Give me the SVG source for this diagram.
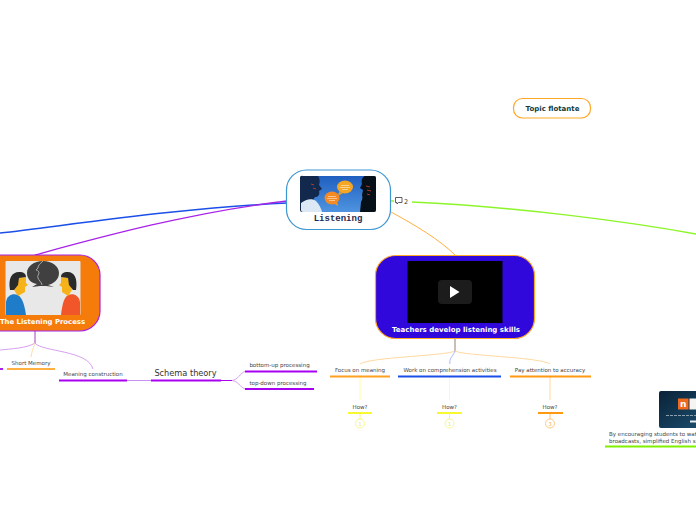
<svg xmlns="http://www.w3.org/2000/svg" width="696" height="520" viewBox="0 0 696 520">
<defs>
<linearGradient id="sky" x1="0" y1="0" x2="0" y2="1"><stop offset="0" stop-color="#1f5fc0"/><stop offset="1" stop-color="#4f94e0"/></linearGradient>
<linearGradient id="npr" x1="0" y1="0" x2="1" y2="1"><stop offset="0" stop-color="#0a2238"/><stop offset="1" stop-color="#1c5070"/></linearGradient>
</defs>
<style>
text{font-family:"DejaVu Sans",Verdana,sans-serif;font-size:5.500px;fill:#444;text-anchor:middle}
.w{fill:#fff;font-weight:bold;font-size:7px}
.c{fill:none}
.u{fill:none;stroke-width:2}
</style>
<rect width="696" height="520" fill="#fff"/>
<g id="connectors">
<path class="c" d="M287 203C180 208 70 225 0 233" stroke="#1b4fe8" stroke-width="1.500"/>
<path class="c" d="M287 201C190 212 90 240 35 255" stroke="#a822e8" stroke-width="1.300"/>
<path class="c" d="M412 202C520 207 630 222 696 234" stroke="#8cf52a" stroke-width="1.500"/>
<path class="c" d="M391 201H394" stroke="#8cf52a" stroke-width="1.500"/>
<path class="c" d="M391 212C415 225 440 240 455 255" stroke="#ffb040" stroke-width="1"/>
<path class="c" d="M35 331V343" stroke="#a040c0" stroke-width="1"/>
<path class="c" d="M35 343C28 348 10 349 0 350" stroke="#d8a0f0" stroke-width="1"/>
<path class="c" d="M35 343C34 347 32 350 31 357" stroke="#ffd9a0" stroke-width="1"/>
<path class="c" d="M35 343C42 352 88 350 93 369" stroke="#d8a0f0" stroke-width="1"/>
<path class="c" d="M127 380.500H152" stroke="#c890f0" stroke-width="1"/>
<path class="c" d="M232 380.500C238 380 240 373 245 371.500" stroke="#d8a0f0" stroke-width="1"/>
<path class="c" d="M232 380.500C238 381 240 387 245 389" stroke="#d8a0f0" stroke-width="1"/>
<path class="c" d="M455 339V352" stroke="#b09a90" stroke-width="1.300"/>
<path class="c" d="M455 351C445 356 370 357 360 364" stroke="#ffd9a0" stroke-width="1"/>
<path class="c" d="M455 351C452 358 449 358 450 364" stroke="#a8b8ff" stroke-width="1"/>
<path class="c" d="M455 351C465 356 540 357 550 364" stroke="#ffd9a0" stroke-width="1"/>
<path class="c" d="M360 377V400" stroke="#ffffa0" stroke-width="1"/>
<path class="c" d="M449.500 377V400" stroke="#ffffa0" stroke-width="1"/>
<path class="c" d="M550 377V400" stroke="#ffd9a0" stroke-width="1"/>
<path class="c" d="M360 413V419" stroke="#f8f870" stroke-width="1"/>
<path class="c" d="M449.500 413V419" stroke="#f8f870" stroke-width="1"/>
<path class="c" d="M550 413V419" stroke="#ffc070" stroke-width="1"/>
<path class="u" d="M0 369H3" stroke="#a822e8"/>
<path class="u" d="M7 369H55" stroke="#ffb040"/>
<path class="u" d="M59 380.500H127" stroke="#a800f0"/>
<path class="u" d="M151 380.500H221" stroke="#a800f0"/>
<path class="c" d="M221 380.500H232" stroke="#a800f0" stroke-width="1"/>
<path class="u" d="M245 371.500H317" stroke="#a800f0"/>
<path class="u" d="M245 389H314" stroke="#a800f0"/>
<path class="u" d="M330 376.500H390" stroke="#ffa020"/>
<path class="u" d="M398 376.500H501" stroke="#1b4fe8"/>
<path class="u" d="M510 376.500H591" stroke="#ff9a10"/>
<path class="u" d="M348 413H372" stroke="#f8f830"/>
<path class="u" d="M437 413H462" stroke="#f8f830"/>
<path class="u" d="M538 413H563" stroke="#ff9a10"/>
<path class="u" d="M605 446.500H696" stroke="#80f000"/>
</g>
<g id="root">
<rect x="286.500" y="170" width="104" height="59.500" rx="20" fill="#fff" stroke="#3c96d2" stroke-width="1.200"/>
<rect x="301" y="176" width="75" height="36" rx="2" fill="url(#sky)"/>
<path d="M303 176h15c2 3 2 6 1 9l3 4-3 2c1 4-1 6-4 6l-2 3c3 3 5 7 6 12h-17a2 2 0 0 1-2-2v-32a2 2 0 0 1 3-2z" fill="#12284c"/>
<path d="M301 210v-7c5-4 11-5 15-2 3 3 5 7 6 11h-19a2 2 0 0 1-2-2z" fill="#dce8f4"/>
<path d="M374 176h-9c-3 1-4 5-3 8l-2 4 3 2-1 5c1 3 0 5-1 7l-1 10h14a2 2 0 0 0 2-2v-32a2 2 0 0 0-2-2z" fill="#061018"/>
<path d="M311 184l3 1M313 188l3 1M366 186l4 1M367 190l4 1M367 194l3 1" stroke="#d8442a" stroke-width=".8"/>
<path d="M339 192l-1 4 5-3zM337 202l1 4-5-3z" fill="#f59a23"/>
<ellipse cx="345" cy="187" rx="8" ry="6.500" fill="#f5a623"/>
<ellipse cx="332" cy="198" rx="7.500" ry="6.500" fill="#f58a23"/>
<path d="M341 185.500h8M340 187.500h10M342 189.500h6M328 196.500h8M327 198.500h10M329 200.500h6" stroke="#fff" stroke-width=".6" opacity=".85"/>
<text x="338" y="221" style="font-family:'Liberation Mono',monospace;font-weight:bold;font-size:9px;fill:#1c2c52">Listening</text>
</g>
<g id="note">
<path d="M395.500 197.500h6.500v5h-3.500l-1.500 1.500v-1.500h-1.500z" fill="#fff" stroke="#334" stroke-width=".8"/>
<text x="406" y="203.500" style="font-size:6.500px;fill:#333">2</text>
</g>
<g id="floating">
<rect x="513.500" y="98.500" width="77" height="19.500" rx="9" fill="#fff" stroke="#ffa726" stroke-width="1.200"/>
<text x="552.500" y="110.500" style="font-weight:bold;font-size:7px;fill:#123c3c">Topic flotante</text>
</g>
<g id="listening-process">
<rect x="-60" y="255" width="160" height="76" rx="20" fill="#f57c0a" stroke="#a822e8" stroke-width="1.200"/>
<rect x="5.500" y="261" width="75" height="54" rx="1" fill="#e8e8e8"/>
<path d="M27 273c0-7 7-12 16-12s16 5 16 12-6 11-11 12l6 2-8-1h-6l-8 1 5-3c-6-1-10-5-10-11z" fill="#404040"/>
<path d="M43 261c-3 3-5 4-5 7l-2 2c2 0 3 2 3 3s-2 3-1 5c1 3 3 3 4 7" fill="none" stroke="#a8a8a8" stroke-width="1"/>
<path d="M6 315v-13c1-7 7-9 12-7 5 3 7 13 8 20z" fill="#1f7cc8"/>
<path d="M18 278l8-1v6l2 2-3 2v5l-7 4-4-6z" fill="#f5b21b"/>
<path d="M10 290c-2-12 2-18 9-18 5 0 7 2 7 5l-7 1-1 7-4 5z" fill="#2a2a2a"/>
<path d="M80 315v-13c-1-7-7-9-12-7-5 3-6 13-7 20z" fill="#f0562a"/>
<path d="M68 278l-7-1v6l-2 2 3 2v5l6 4 4-6z" fill="#f5b21b"/>
<path d="M76 290c2-12-2-18-8-18-5 0-7 2-7 5l7 1 1 7 4 5z" fill="#2a2a2a"/>
<text class="w" x="42.500" y="324" style="font-size:6.900px">The Listening Process</text>
</g>
<g id="short-memory"><text x="31" y="365">Short Memory</text></g>
<g id="meaning-construction"><text x="93" y="376">Meaning construction</text></g>
<g id="schema-theory"><text x="185.500" y="376" style="font-size:8.200px;fill:#333">Schema theory</text></g>
<g id="bottom-up"><text x="279.500" y="367">bottom-up processing</text></g>
<g id="top-down"><text x="278" y="385">top-down processing</text></g>
<g id="teachers">
<rect x="375.500" y="255.500" width="159" height="83" rx="20" fill="#3008dc" stroke="#ffa726" stroke-width="1.200"/>
<rect x="407.500" y="261" width="95" height="62" fill="#000"/>
<rect x="438" y="280" width="34" height="24" rx="4" fill="#1c1c1c"/>
<path d="M450 286l9.500 6-9.500 6z" fill="#fff"/>
<text class="w" x="456" y="332">Teachers develop listening skills</text>
</g>
<g id="focus"><text x="360" y="372">Focus on meaning</text></g>
<g id="work"><text x="450" y="372">Work on comprehension activities</text></g>
<g id="pay"><text x="550" y="372">Pay attention to accuracy</text></g>
<g id="how1"><text x="360" y="409">How?</text></g>
<g id="how2"><text x="449.500" y="409">How?</text></g>
<g id="how3"><text x="550" y="409">How?</text></g>
<g id="count1"><circle cx="360" cy="423.500" r="4.500" fill="#fff" stroke="#f8f890"/><text x="360" y="425.500" style="fill:#e8e880">1</text></g>
<g id="count2"><circle cx="449.500" cy="423.500" r="4.500" fill="#fff" stroke="#f8f890"/><text x="449.500" y="425.500" style="fill:#e8e880">1</text></g>
<g id="count3"><circle cx="550" cy="423.500" r="4.500" fill="#fff" stroke="#ffc880"/><text x="550" y="425.500" style="fill:#f0b060">3</text></g>
<g id="encouraging">
<rect x="659" y="391" width="50" height="37" rx="2" fill="url(#npr)"/>
<rect x="678" y="398.500" width="10.500" height="11" fill="#f06a1e"/>
<text x="683.200" y="407" style="font-weight:bold;font-size:9px;fill:#fff">n</text>
<rect x="689.500" y="398.500" width="7" height="11" fill="#f4f4f4"/>
<path d="M666 415.500h30" stroke="#8aa0b0" stroke-width="1" stroke-dasharray="3 1"/>
<path d="M690 421.500h6" stroke="#e8eef2" stroke-width="2"/>
<text x="609" y="435.500" style="text-anchor:start;font-size:5.500px">By encouraging students to wat</text>
<text x="609" y="442.500" style="text-anchor:start;font-size:5.500px">broadcasts, simplified English s</text>
</g>
</svg>
